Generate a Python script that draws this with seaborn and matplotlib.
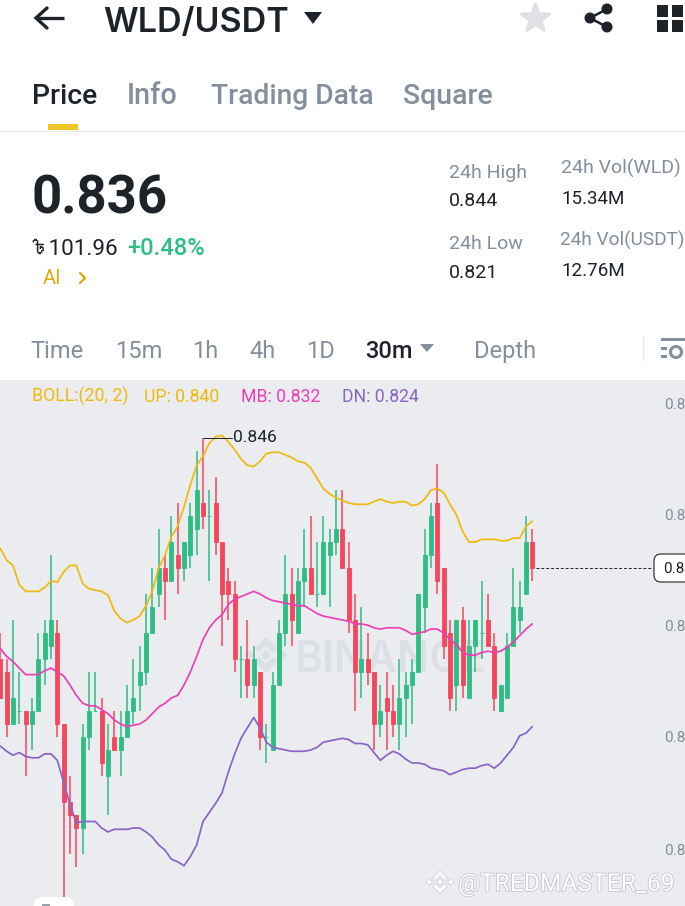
import matplotlib
matplotlib.use('Agg')
import matplotlib.pyplot as plt
import matplotlib.patheffects as pe
from matplotlib import font_manager
from matplotlib.ft2font import FT2Font
from matplotlib.patches import FancyBboxPatch, Polygon, Circle, Rectangle
import numpy as np
import pandas as pd
import seaborn as sns

DARK = '#1E2329'
GRAY = '#848E9C'
GREEN = '#2EBD85'
RED = '#F6465D'
GOLD = '#F0B90B'
PINK = '#EC3FB8'
PURPLE = '#8A63C6'
CHART_BG = '#EAECEF'

opens = [.829, .828, .824, .825, .825, .824, .825, .829, .830, .831, .824, .818, .817, .816, .823, .825, .825, .820, .823, .822, .823,
         .825, .827, .828, .831, .834, .836, .835, .837, .836, .837, .839, .841, .840, .841, .838, .835, .834, .829, .829, .827,
         .828, .823, .822, .827, .831, .834, .831, .835, .836, .834, .834, .837, .838, .839, .836, .832, .828, .829, .828, .824,
         .826, .825, .824, .826, .827, .828, .833, .837, .841, .836, .831, .827, .832, .826, .830, .831, .832, .830, .825, .826,
         .830, .832, .834, .838]
highs = [.831, .829, .832, .828, .825, .826, .831, .832, .837, .832, .824, .820, .817, .824, .828, .828, .826, .824, .825, .825, .827,
         .829, .830, .834, .836, .839, .837, .840, .841, .838, .841, .845, .846, .842, .843, .838, .836, .835, .830, .832, .830,
         .828, .824, .828, .832, .837, .836, .836, .839, .840, .838, .840, .839, .842, .842, .838, .834, .833, .831, .828, .827,
         .828, .827, .829, .828, .829, .834, .839, .841, .844, .836, .832, .832, .833, .832, .832, .835, .834, .831, .827, .831,
         .836, .835, .840, .839]
lows = [.826, .823, .824, .824, .820, .822, .825, .827, .829, .823, .8105, .814, .813, .814, .822, .825, .820, .817, .822, .820, .823,
        .824, .825, .827, .831, .833, .832, .835, .834, .835, .836, .837, .839, .835, .837, .830, .832, .828, .826, .826, .826,
        .822, .821, .822, .827, .830, .830, .831, .833, .834, .833, .834, .833, .837, .836, .831, .825, .826, .827, .822, .823,
        .822, .823, .822, .823, .824, .828, .831, .836, .834, .829, .825, .825, .826, .826, .828, .829, .830, .825, .825, .826,
        .830, .831, .834, .835]
closes = [.826, .824, .826, .825, .824, .825, .829, .831, .832, .824, .818, .817, .816, .823, .825, .825, .821, .822, .822, .823, .825,
          .826, .828, .831, .833, .836, .835, .838, .836, .838, .840, .842, .840, .840, .838, .834, .834, .829, .829, .827, .829,
          .823, .823, .827, .831, .834, .832, .835, .836, .834, .834, .838, .838, .839, .836, .832, .828, .829, .828, .824, .825,
          .825, .824, .826, .827, .828, .834, .837, .840, .835, .830, .826, .832, .827, .830, .832, .831, .830, .826, .827, .830,
          .833, .833, .838, .836]

boll_up = [.8375, .8366, .8362, .8347, .8342, .8342, .8342, .8345, .8350, .8349, .8357, .8362, .8362, .8348, .8344, .8343, .8342,
           .8339, .8327, .8321, .8318, .8320, .8323, .8331, .8342, .8360, .8370, .8384, .8392, .8407, .8424, .8439, .8446, .8456,
           .8461, .8462, .8457, .8451, .8444, .8439, .8438,
           .8442, .8448, .8449, .8449, .8447, .8445, .8442, .8441, .8437, .8429, .8421, .8417, .8414, .8412, .8410, .8409, .8409,
           .8409, .8411, .8413, .8411, .8410, .8411, .8411, .8408, .8409, .8413, .8420, .8421, .8418, .8409, .8401, .8388, .8380,
           .8380, .8382, .8382, .8382, .8381, .8381, .8383, .8383, .8392, .8396]
boll_mb = [.8298, .8292, .8288, .8283, .8278, .8278, .8278, .8281, .8283, .8280, .8277, .8270, .8262, .8256, .8254, .8254, .8251,
           .8248, .8243, .8240, .8238, .8239, .8240, .8243, .8248, .8253, .8256, .8260, .8262, .8270, .8280, .8292, .8305, .8314,
           .8320, .8324, .8332, .8336, .8338, .8340, .8342,
           .8340, .8337, .8335, .8334, .8333, .8332, .8331, .8331, .8328, .8325, .8323, .8322, .8321, .8320, .8319, .8317, .8317,
           .8316, .8314, .8313, .8314, .8314, .8314, .8312, .8309, .8310, .8311, .8313, .8313, .8310, .8305, .8301, .8295, .8293,
           .8293, .8295, .8296, .8295, .8296, .8299, .8303, .8308, .8313, .8317]
boll_dn = [.8223, .8219, .8216, .8218, .8215, .8214, .8214, .8217, .8217, .8212, .8195, .8178, .8164, .8165, .8165, .8165, .8160,
           .8157, .8159, .8159, .8159, .8160, .8160, .8157, .8153, .8147, .8143, .8136, .8134, .8131, .8138, .8147, .8165, .8172,
           .8179, .8187, .8203, .8217, .8229, .8237, .8245,
           .8237, .8226, .8222, .8221, .8220, .8219, .8219, .8219, .8220, .8222, .8226, .8227, .8228, .8229, .8228, .8225, .8225,
           .8224, .8218, .8212, .8216, .8219, .8217, .8213, .8210, .8210, .8209, .8206, .8205, .8204, .8201, .8203, .8205, .8206,
           .8206, .8208, .8209, .8206, .8210, .8216, .8222, .8231, .8233, .8238]

price_ticks = [.84869, .84015, .83154, .8230, .81438]
last_price = .836
peak_price = .846

sns.set_theme(style='white')
FONT = ['Roboto', 'DejaVu Sans']
plt.rcParams['font.family'] = FONT

df = pd.DataFrame({'open': opens, 'high': highs, 'low': lows, 'close': closes,
                   'up': boll_up, 'mb': boll_mb, 'dn': boll_dn})
df['idx'] = np.arange(len(df))
df['color'] = np.where(df['close'] >= df['open'], GREEN, RED)


def family_with(char):
    """First installed family that has this glyph, or None."""
    for f in font_manager.fontManager.ttflist:
        try:
            if ord(char) in FT2Font(f.fname).get_charmap():
                return f.name
        except Exception:
            continue
    return None


fig = plt.figure(figsize=(6.85, 9.06), dpi=100, facecolor='white')

# page layer in pixel coordinates
ui = fig.add_axes([0, 0, 1, 1], zorder=3)
ui.set_xlim(0, 685)
ui.set_ylim(906, 0)
ui.axis('off')
ui.patch.set_alpha(0)

# chart area
ax = fig.add_axes([0, 0, 1, 526 / 906], zorder=2)
ax.set_facecolor(CHART_BG)
ax.set_xlim(-0.052, 108.1)
ax.set_ylim(.81, .85046)
for s in ax.spines.values():
    s.set_visible(False)


def logo(axis, cx, cy, r, color, zorder=1, edge=None):
    """Rough diamond logo, r is half of the full width."""
    def diamond(x, y, h):
        return [(x - h, y), (x, y - h), (x + h, y), (x, y + h)]
    parts = [diamond(cx, cy, r * .24), diamond(cx - r * .76, cy, r * .22), diamond(cx + r * .76, cy, r * .22)]
    for sgn in (-1, 1):
        parts.append([(cx - r * .52, cy + sgn * r * .3), (cx, cy + sgn * r * .82), (cx + r * .52, cy + sgn * r * .3),
                      (cx + r * .32, cy + sgn * r * .1), (cx, cy + sgn * r * .42), (cx - r * .32, cy + sgn * r * .1)])
    for p in parts:
        axis.add_patch(Polygon(p, closed=True, fc=color, ec=edge or 'none', lw=0.5, zorder=zorder,
                               transform=ui.transData, clip_on=False))


# watermark sits under the candles
logo(ax, 266, 655, 22, '#DCDFE3', zorder=0.5)
ax.text(295, 672, 'BINANCE', transform=ui.transData, fontsize=30.5, fontweight='semibold', color='#DCDFE3',
        family=['Inter', 'DejaVu Sans'], ha='left', va='baseline', zorder=0.5)

ax.vlines(df['idx'], df['low'], df['high'], colors=df['color'], linewidth=1.1, zorder=2)
ax.bar(df['idx'], (df['close'] - df['open']).abs(), bottom=df[['open', 'close']].min(axis=1), width=0.66,
       color=df['color'], edgecolor=df['color'], linewidth=0.6, zorder=2)

for col, c in (('up', GOLD), ('mb', PINK), ('dn', PURPLE)):
    sns.lineplot(data=df, x='idx', y=col, ax=ax, color=c, linewidth=1.25, errorbar=None, legend=False, zorder=3)

ax.set_xlabel('')
ax.set_ylabel('')
ax.set_xticks([])
ax.yaxis.tick_right()
ax.set_yticks(price_ticks)
ax.set_yticklabels(['0.8'] * len(price_ticks), fontsize=11, color=GRAY)
ax.tick_params(axis='y', length=0, pad=-15)

# highest price marker and last price line
peak_i = int(np.argmax(highs))
ax.plot([peak_i, peak_i + 4.5], [peak_price, peak_price], color=DARK, lw=0.7, zorder=4)
ax.text(peak_i + 4.7, peak_price, '0.846', color=DARK, fontsize=12.5, va='center', ha='left', zorder=4)
ax.plot([84.5, 103], [last_price, last_price], color=DARK, lw=0.7, ls=(0, (3, 2)), zorder=1)
ax.add_patch(FancyBboxPatch((656, 556), 40, 24, boxstyle='round,pad=2,rounding_size=7', fc='white', ec=DARK, lw=0.8,
                            transform=ui.transData, zorder=4, clip_on=False))
ax.text(663, 569, '0.8', transform=ui.transData, color=DARK, fontsize=11, va='center', ha='left', zorder=5)

# white pill at the chart bottom
ax.add_patch(FancyBboxPatch((36, 899), 36, 20, boxstyle='round,pad=2,rounding_size=9', fc='white', ec='none',
                            transform=ui.transData, zorder=2.5))
ax.add_patch(Rectangle((42, 904), 8, 2, fc='#9AA1AC', ec='none', transform=ui.transData, zorder=2.6))


def txt(x, y, s, size, color=DARK, weight='normal', **kw):
    return ui.text(x, y, s, fontsize=size, color=color, fontweight=weight, ha=kw.pop('ha', 'left'), va='baseline', **kw)


# top bar
ui.plot([36, 64], [18, 18], color=DARK, lw=2.4, solid_capstyle='butt')
ui.plot([47, 36, 47], [8, 18, 28], color=DARK, lw=2.4, solid_joinstyle='miter')
txt(103, 32, 'WLD/USDT', 24.5, weight='semibold', family=['Inter', 'DejaVu Sans'])
ui.add_patch(Polygon([(304, 12), (322, 12), (313, 24)], fc=DARK, ec='none'))
ui.scatter([535], [18], marker='*', s=430, color='#DFE1E5', edgecolors='#DFE1E5', linewidths=2.5)
for cx, cy in ((607, 9), (590, 18), (607, 27)):
    ui.add_patch(Circle((cx, cy), 5.5, fc=DARK, ec='none'))
ui.plot([607, 590, 607], [9, 18, 27], color=DARK, lw=1.8)
for gx, gy in ((657, 5), (672, 5), (657, 20), (672, 20)):
    ui.add_patch(Rectangle((gx, gy), 11.5, 11.5, fc=DARK, ec='none'))

# tabs
txt(32, 104, 'Price', 20.3, weight='medium')
txt(127, 104, 'Info', 20.8, GRAY, 'medium')
txt(211, 104, 'Trading Data', 20.3, GRAY, 'medium')
txt(403, 104, 'Square', 20.5, GRAY, 'medium')
ui.add_patch(Rectangle((48, 124), 30, 6, fc='#F0C52A', ec='none'))
ui.plot([0, 685], [130.5, 130.5], color=CHART_BG, lw=0.8)

# price block, the taka sign needs its own family
txt(31, 213, '0.836', 38, weight='bold')
taka = family_with('৳')
txt(26, 255, '৳101.96', 16.2, family=['Roboto', taka] if taka else ['Roboto', 'DejaVu Sans'])
txt(127, 255, '+0.48%', 17, GREEN, 'medium')
txt(43, 284, 'AI', 14.5, '#E0A90A')
ui.plot([80, 85, 80], [273, 278, 283], color='#E0A90A', lw=1.6)

txt(449, 178, '24h High', 14, GRAY)
txt(449, 206, '0.844', 14)
txt(449, 249, '24h Low', 14, GRAY)
txt(449, 278, '0.821', 14)
txt(561, 174, '24h Vol(WLD)', 14, GRAY)
txt(561, 204, '15.34M', 13.5)
txt(560, 246, '24h Vol(USDT)', 13.7, GRAY)
txt(561, 276, '12.76M', 13.5)

# interval row
for x, s in ((30, 'Time'), (115, '15m'), (192, '1h'), (249, '4h'), (306, '1D'), (474, 'Depth')):
    txt(x, 358, s, 17, GRAY)
txt(365, 358, '30m', 17, weight='medium')
ui.add_patch(Polygon([(420, 344), (434, 344), (427, 352)], fc=GRAY, ec='none'))
ui.plot([643, 643], [336, 360], color=CHART_BG, lw=0.9)
ui.add_patch(Rectangle((661, 338), 24, 3, fc=GRAY, ec='none'))
ui.add_patch(Rectangle((661, 347), 6, 3, fc=GRAY, ec='none'))
ui.add_patch(Rectangle((661, 355), 6, 3, fc=GRAY, ec='none'))
ui.add_patch(Circle((676, 352), 5.5, fc='none', ec=GRAY, lw=2.2))

# indicator legend
txt(32, 402, 'BOLL:(20, 2)', 12.8, GOLD)
txt(144, 402, 'UP: 0.840', 12.7, GOLD)
txt(241, 402, 'MB: 0.832', 12.7, PINK)
txt(342, 402, 'DN: 0.824', 12.7, PURPLE)

# square watermark
logo(ui, 440, 882, 14, 'white', zorder=5, edge='#C6CAD0')
ui.text(458, 891, '@TREDMASTER_69', fontsize=17.7, color='white', ha='left', va='baseline', zorder=5,
        path_effects=[pe.withStroke(linewidth=1.1, foreground='#BFC3C9')])

fig.savefig('out.png', dpi=100)
plt.close(fig)
